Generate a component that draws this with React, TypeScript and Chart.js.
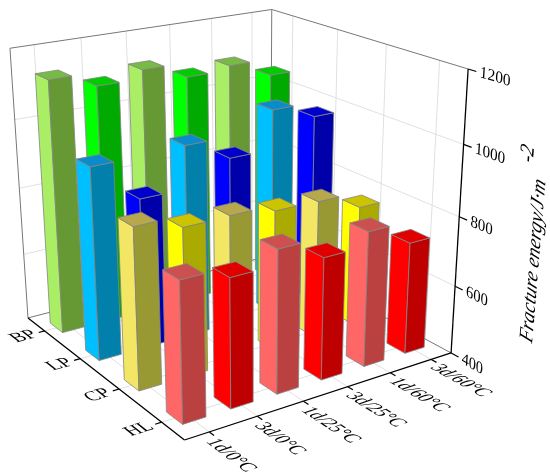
import { useEffect, useRef } from 'react'
import { Chart, registerables, type Plugin } from 'chart.js'

Chart.register(...registerables)

const CONDITIONS = ['1d/0°C', '3d/0°C', '1d/25°C', '3d/25°C', '1d/60°C', '3d/60°C']
const ROWS = ['HL', 'CP', 'LP', 'BP']

const HL_VALUES = [791, 763, 806, 750, 790, 726]
const CP_VALUES = [859, 826, 828, 811, 808, 762]
const LP_VALUES = [956, 839, 962, 900, 1014, 971]
const BP_VALUES = [1139, 1100, 1124, 1082, 1094, 1045]
const ROW_VALUES = [HL_VALUES, CP_VALUES, LP_VALUES, BP_VALUES]

// [left face, right face, top face], odd and even conditions alternate
const ROW_COLORS = [
  [['#FF6666', '#BB4040', '#CC5050'], ['#FF0000', '#BF0000', '#E00000']],
  [['#F2E664', '#999933', '#B8A84C'], ['#FFFF00', '#AAAA00', '#CCC400']],
  [['#00BFFF', '#0080AA', '#0A8CCC'], ['#0000FF', '#0000AA', '#0000CC']],
  [['#AAEE66', '#669933', '#77BB44'], ['#00FF00', '#00AA00', '#00CC00']],
]

// one vanishing point per box edge
const ORIGIN = [184.5, 440]
const VP_U = [2524, -324]
const VP_V = [-773, -307]
const VP_W = [252, 3670]
const K_U = 0.1286
const K_V = 0.1954
const K_W = -0.089

const BAR_DEPTH = 0.09

type P3 = [number, number, number]

function project([u, v, w]: P3) {
  const d = 1 + K_U * u + K_V * v + K_W * w
  return [
    (ORIGIN[0] + K_U * u * VP_U[0] + K_V * v * VP_V[0] + K_W * w * VP_W[0]) / d,
    (ORIGIN[1] + K_U * u * VP_U[1] + K_V * v * VP_V[1] + K_W * w * VP_W[1]) / d,
  ]
}

function line(ctx: CanvasRenderingContext2D, a: P3, b: P3, color: string, width: number) {
  const p = project(a)
  const q = project(b)
  ctx.strokeStyle = color
  ctx.lineWidth = width
  ctx.beginPath()
  ctx.moveTo(p[0], p[1])
  ctx.lineTo(q[0], q[1])
  ctx.stroke()
}

function face(ctx: CanvasRenderingContext2D, pts: P3[], fill: string) {
  ctx.beginPath()
  pts.forEach((pt, i) => {
    const p = project(pt)
    if (i === 0) ctx.moveTo(p[0], p[1])
    else ctx.lineTo(p[0], p[1])
  })
  ctx.closePath()
  ctx.fillStyle = fill
  ctx.fill()
  ctx.strokeStyle = '#858585'
  ctx.lineWidth = 0.8
  ctx.stroke()
}

function unit(at: P3, dir: P3) {
  const p = project(at)
  const q = project([at[0] + dir[0] * 0.01, at[1] + dir[1] * 0.01, at[2] + dir[2] * 0.01])
  const len = Math.hypot(q[0] - p[0], q[1] - p[1])
  return [(q[0] - p[0]) / len, (q[1] - p[1]) / len]
}

// text lying in one of the box planes
function planeText(
  ctx: CanvasRenderingContext2D, text: string, at: P3, along: P3, up: P3,
  align: CanvasTextAlign, font: string, upScale = 1,
) {
  const p = project(at)
  const a = unit(at, along)
  const b = unit(at, up)
  ctx.save()
  ctx.transform(a[0], a[1], -b[0] * upScale, -b[1] * upScale, p[0], p[1])
  ctx.font = font
  ctx.fillStyle = '#000'
  ctx.textAlign = align
  ctx.textBaseline = 'middle'
  ctx.fillText(text, 0, 0)
  ctx.restore()
}

const box3dPlugin: Plugin<'bar'> = {
  id: 'box3d',
  beforeDatasetsDraw(chart) {
    const { ctx } = chart
    const xScale = chart.scales.x
    const yScale = chart.scales.y
    const depth = chart.scales.depth
    const uTicks = CONDITIONS.map((_, i) => xScale.getDecimalForPixel(xScale.getPixelForValue(i)))
    const vTicks = ROWS.map((_, j) => depth.getDecimalForPixel(depth.getPixelForValue(j)))
    const wTicks = yScale.ticks.map((t) => yScale.getDecimalForPixel(yScale.getPixelForValue(t.value)))

    ctx.save()
    ctx.lineCap = 'butt'

    // walls and floor
    const grid = '#e0e0e0'
    wTicks.forEach((w) => {
      if (w <= 0 || w >= 1) return
      line(ctx, [0, 1, w], [1, 1, w], grid, 1)
      line(ctx, [1, 0, w], [1, 1, w], grid, 1)
    })
    uTicks.forEach((u) => {
      line(ctx, [u, 1, 0], [u, 1, 1], grid, 1)
      line(ctx, [u, 0, 0], [u, 1, 0], grid, 1)
    })
    vTicks.forEach((v) => {
      line(ctx, [1, v, 0], [1, v, 1], grid, 1)
      line(ctx, [0, v, 0], [1, v, 0], grid, 1)
    })
    const frame = '#777777'
    line(ctx, [0, 1, 0], [0, 1, 1], frame, 1)
    line(ctx, [0, 1, 1], [1, 1, 1], frame, 1)
    line(ctx, [1, 1, 1], [1, 0, 1], frame, 1)
    line(ctx, [1, 1, 0], [1, 1, 1], frame, 1)
    line(ctx, [0, 1, 0], [1, 1, 0], frame, 1)
    line(ctx, [1, 0, 0], [1, 1, 0], frame, 1)

    // bars, far rows first
    const halfV = BAR_DEPTH / 2
    for (let j = ROWS.length - 1; j >= 0; j--) {
      const meta = chart.getDatasetMeta(j)
      const v = vTicks[j]
      for (let i = CONDITIONS.length - 1; i >= 0; i--) {
        const el = meta.data[i] as unknown as { x: number; y: number; base: number; width: number }
        const u = xScale.getDecimalForPixel(el.x)
        const halfU = el.width / chart.chartArea.width / 2
        const top = yScale.getDecimalForPixel(el.y)
        const [left, right, lid] = ROW_COLORS[j][i % 2]
        const u0 = u - halfU
        const u1 = u + halfU
        const v0 = v - halfV
        const v1 = v + halfV
        face(ctx, [[u0, v1, 0], [u0, v0, 0], [u0, v0, top], [u0, v1, top]], left)
        face(ctx, [[u0, v0, 0], [u1, v0, 0], [u1, v0, top], [u0, v0, top]], right)
        face(ctx, [[u0, v0, top], [u1, v0, top], [u1, v1, top], [u0, v1, top]], lid)
      }
    }

    // axes
    const axis = '#000000'
    line(ctx, [0, 1, 0], [0, 0, 0], axis, 1.3)
    line(ctx, [0, 0, 0], [1, 0, 0], axis, 1.3)
    line(ctx, [1, 0, 0], [1, 0, 1], axis, 1.3)

    const serif = '"Liberation Serif"'
    uTicks.forEach((u, i) => {
      line(ctx, [u, 0, 0], [u, -0.025, 0], axis, 1.2)
      planeText(ctx, CONDITIONS[i], [u - 0.022, -0.04, 0], [0, -1, 0], [1, 0, 0], 'left', `18px ${serif}`, 1.15)
    })
    vTicks.forEach((v, j) => {
      line(ctx, [0, v, 0], [-0.022, v, 0], axis, 1.2)
      planeText(ctx, ROWS[j], [-0.035, v, 0], [1, 0, 0], [0, 1, 0], 'right', `19px ${serif}`, 1)
    })
    yScale.ticks.forEach((t, k) => {
      const w = wTicks[k]
      line(ctx, [1, 0, w], [1, -0.035, w], axis, 1.2)
      planeText(ctx, String(t.value), [1, -0.05, w], [0, -1, 0], [0, 0, 1], 'left', `16px ${serif}`, 1.05)
    })

    const titleFont = `italic 20px ${serif}`
    planeText(ctx, 'Fracture energy/J·m', [1, -0.32, 0.46], [0, 0, 1], [0, 1, 0], 'center', titleFont, 1.05)
    planeText(ctx, '-2', [1, -0.265, 0.795], [0, 0, 1], [0, 1, 0], 'center', titleFont, 1.05)

    ctx.restore()
    return false
  },
}

export default function App() {
  const canvasRef = useRef<HTMLCanvasElement | null>(null)

  useEffect(() => {
    if (!canvasRef.current) return
    const chart = new Chart(canvasRef.current, {
      type: 'bar',
      data: {
        labels: CONDITIONS,
        datasets: ROWS.map((row, j) => ({ label: row, data: ROW_VALUES[j], grouped: false })),
      },
      options: {
        responsive: false,
        animation: false,
        layout: { padding: 0 },
        categoryPercentage: 1,
        barPercentage: 0.48,
        plugins: { legend: { display: false }, tooltip: { enabled: false } },
        scales: {
          x: { type: 'category', display: false, offset: true },
          y: { type: 'linear', display: false, min: 400, max: 1200, ticks: { stepSize: 200 } },
          depth: { type: 'category', axis: 'x', display: false, offset: true, labels: ROWS },
        },
      } as never,
      plugins: [box3dPlugin],
    })
    return () => chart.destroy()
  }, [])

  return (
    <div style={{ position: 'fixed', left: 0, top: 0, width: 550, height: 475, background: '#fff' }}>
      <canvas ref={canvasRef} width={550} height={475} style={{ display: 'block' }} />
    </div>
  )
}
